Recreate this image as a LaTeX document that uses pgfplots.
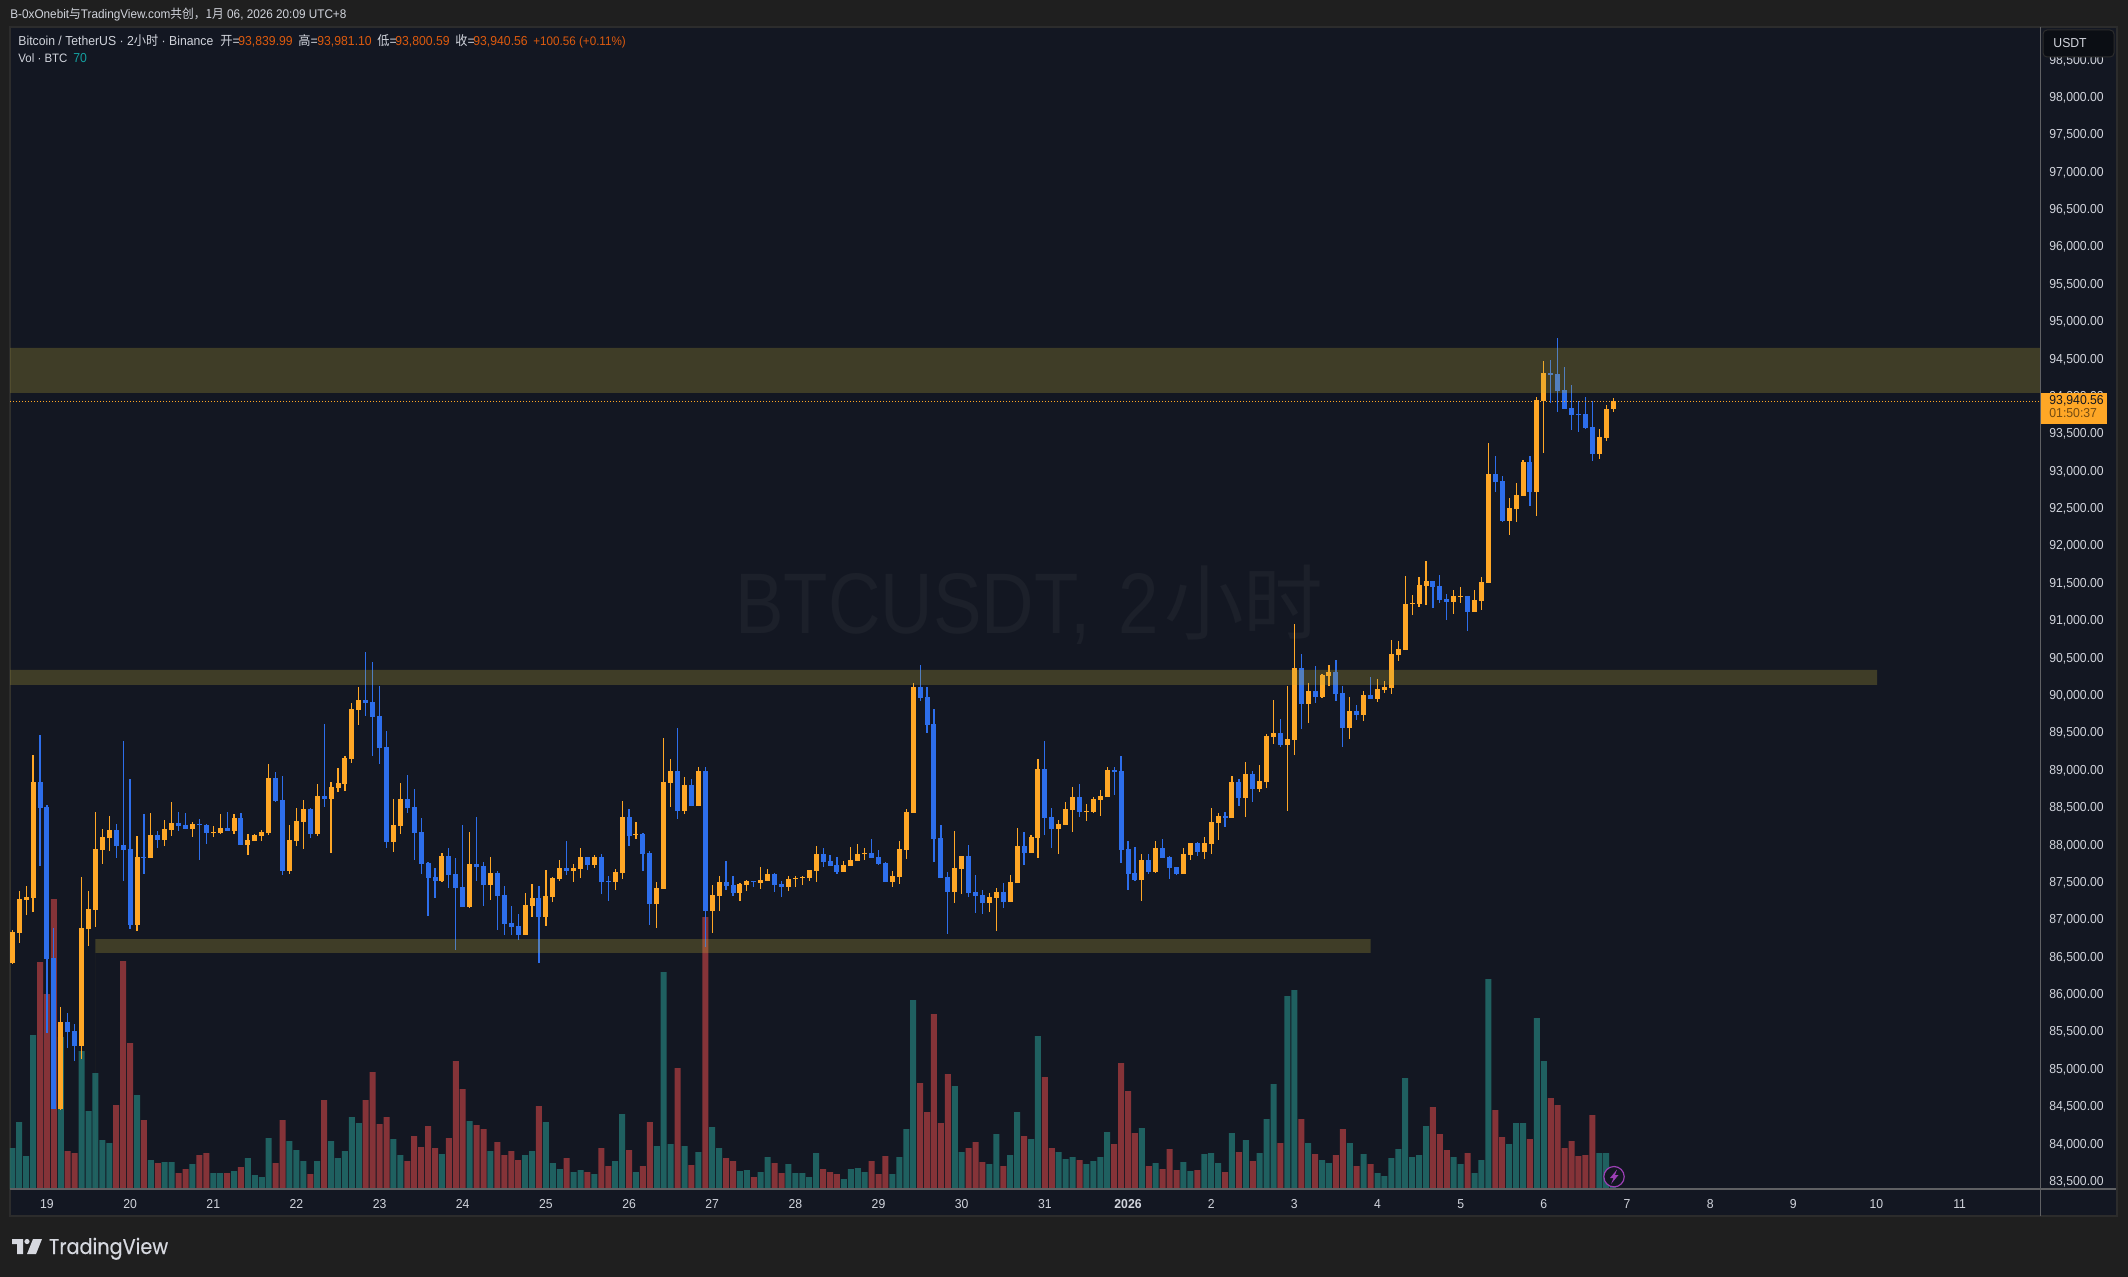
\documentclass[border=0pt]{standalone}
\usepackage{fontspec}
\usepackage{pgfplots}
\usepackage{pgfplotstable}
\pgfplotsset{compat=1.18}
\setmainfont{Liberation Sans}[FakeStretch=0.94]
\newfontfamily\cjk{Noto Sans CJK SC}[FakeStretch=0.94]
\newfontfamily\wmfont{Liberation Sans}
\newfontfamily\wmcjk{Noto Sans CJK SC}
\newfontfamily\logofont{Poppins}[FakeBold=0.4]

\definecolor{outer}{HTML}{1F1F1F}
\definecolor{panel}{HTML}{131722}
\definecolor{frameline}{HTML}{2C2C2C}
\definecolor{cup}{HTML}{FFA726}
\definecolor{cdown}{HTML}{2D6EEB}
\definecolor{vup}{HTML}{1F6060}
\definecolor{vdown}{HTML}{853338}
\definecolor{zone}{RGB}{195,175,55}
\definecolor{txt}{HTML}{D1D4DC}
\definecolor{val}{HTML}{DD5A0E}
\definecolor{wm}{HTML}{1C202A}
\definecolor{bolt}{HTML}{9C3FB5}

% 2h candles: bar index, open, high, low, close, volume (bar height)
\pgfplotstableread{
i o h l c v
0 86431 86868 86413 86841 41
1 86828 87389 86694 87282 67
2 87269 87456 87068 87309 33
3 87296 89209 87108 88847 154
7 84473 85838 84460 85637 152
10 85316 87577 85142 86894 138
11 86881 87389 86654 87149 78
12 87135 88446 86908 87951 116
13 87938 88219 87751 88112 49
14 88098 88393 87924 88205 46
18 86935 88125 86854 87844 94
20 87831 88433 87831 88138 29
22 88072 88339 87991 88219 27
23 88205 88580 88125 88299 27
26 88219 88312 88112 88286 25
29 88165 88259 88112 88179 16
30 88165 88419 88152 88232 16
32 88192 88419 88152 88366 18
34 88005 88152 87871 88072 31
35 88058 88152 88058 88138 14
36 88125 88205 88058 88179 12
37 88165 89088 88138 88901 51
40 87657 88272 87617 88072 48
41 88058 88500 87991 88326 39
42 88312 88607 87951 88486 28
44 88152 88821 88125 88660 28
46 88620 88847 87898 88781 48
47 88767 89035 88714 88834 31
48 88821 89195 88727 89169 38
49 89155 89904 89102 89824 72
50 89811 90118 89610 89944 66
55 88045 88620 87911 88272 50
56 88259 88834 88152 88620 34
62 87523 87898 87510 87858 35
66 87175 88179 87162 87751 68
69 87470 87844 87269 87630 38
74 86801 87363 86801 87202 34
75 87189 87483 87042 87296 38
77 87042 87670 86921 87322 67
78 87309 87577 87242 87563 26
79 87550 87804 87523 87697 20
81 87657 87751 87510 87697 17
82 87684 87965 87563 87844 19
84 87737 87871 87697 87844 15
87 87510 87684 87403 87644 28
88 87630 88593 87550 88379 75
90 88138 88312 88085 88152 17
93 87216 87510 86894 87430 43
94 87416 89436 87416 88847 217
95 88834 89155 88513 88995 45
97 88460 88914 88419 88807 43
99 88526 89048 88526 88995 37
101 87122 87470 86828 87336 62
102 87322 87590 87122 87510 41
105 87363 87496 87256 87483 18
106 87470 87537 87389 87523 19
108 87496 87710 87416 87537 17
109 87523 87684 87523 87617 32
112 87443 87590 87389 87550 25
113 87550 87590 87443 87563 16
114 87563 87590 87470 87577 16
115 87563 87670 87523 87670 12
116 87657 87991 87510 87884 36
120 87644 87791 87644 87737 10
121 87724 87978 87724 87804 20
122 87791 88018 87791 87884 21
123 87884 87965 87804 87898 17
127 87510 87657 87443 87590 15
128 87577 88058 87483 87951 32
129 87938 88486 87817 88446 60
130 88433 90172 88433 90118 189
136 87376 88192 87229 87697 103
137 87684 87858 87349 87858 37
141 87229 87363 87108 87309 25
142 87296 87430 86854 87376 55
144 87242 87603 87242 87510 34
145 87496 88232 87496 87991 77
147 87898 88138 87898 88112 50
148 88098 89155 87831 89021 153
151 88219 88339 87884 88286 37
152 88272 88580 88272 88486 30
153 88473 88781 88179 88647 32
155 88446 88553 88326 88460 25
156 88446 88647 88433 88620 28
157 88607 88740 88393 88660 32
158 88647 89048 88647 89008 57
163 87537 87884 87256 87804 61
165 87644 88058 87630 87965 26
169 87617 87965 87617 87884 27
170 87871 88031 87804 88031 18
172 87911 88112 87817 88031 35
173 88018 88500 87884 88312 36
174 88299 88433 88072 88393 26
176 88366 88928 88366 88847 56
178 88633 89115 88379 88955 49
180 88754 89075 88714 88861 36
181 88847 89490 88767 89463 70
182 89449 89944 89356 89503 105
184 89342 90132 88460 89423 193
185 89409 90961 89209 90372 199
187 89891 90172 89637 90065 46
189 89985 90292 89971 90279 29
190 90265 90413 90132 90319 26
193 89570 89985 89423 89797 46
195 89744 90065 89663 90011 35
197 89958 90225 89918 90092 16
198 90078 90199 90038 90118 13
199 90105 90747 90025 90560 31
200 90547 90734 90466 90627 40
201 90614 91603 90614 91229 111
202 91229 91349 91082 91242 32
203 91229 91590 91189 91483 34
204 91470 91804 91216 91537 63
208 91256 91416 91095 91336 32
209 91323 91456 91242 91336 25
211 91122 91416 91122 91282 16
212 91269 91590 91149 91523 29
213 91510 93383 91510 92968 210
216 92339 92647 92152 92513 45
217 92500 92848 92326 92687 66
218 92674 93155 92674 93128 66
220 92727 93998 92406 93958 171
221 93944 94480 93249 94319 128
229 93236 93570 93169 93463 36
230 93450 93891 93409 93837 36
231 93839.99 93981.10 93800.59 93940.56 2
}\upbars

\pgfplotstableread{
i o h l c v
4 88847 89476 87724 88500 227
5 88513 88540 85490 86480 195
6 86493 86894 84473 84473 290
8 85637 85757 85289 85503 38
9 85517 85610 85115 85316 36
15 88205 88286 87831 87991 84
16 88005 89396 87523 87938 228
17 87951 88888 86881 86935 146
19 87844 88419 87617 87831 69
21 88138 88192 87965 88072 26
24 88299 88446 88192 88259 16
25 88272 88433 88219 88219 20
27 88286 88353 87804 88272 34
28 88272 88286 88018 88165 36
31 88232 88446 88192 88192 16
33 88366 88433 88005 88005 22
38 88901 88981 88580 88593 26
39 88607 88928 87603 87657 69
43 88486 88500 88098 88152 15
45 88660 89623 88513 88620 89
51 89944 90586 89730 89904 89
52 89918 90453 89195 89717 117
53 89730 90132 89088 89302 65
54 89316 89530 87965 88045 72
57 88620 88941 88433 88500 28
58 88513 88754 87804 88165 53
59 88179 88366 87617 87751 42
60 87764 87777 87055 87563 63
61 87577 87697 87296 87523 41
63 87858 87965 87430 87603 51
64 87617 87831 86600 87430 128
65 87443 88272 87175 87175 100
67 87751 88379 87523 87710 64
68 87724 87777 87189 87470 60
70 87630 87657 86868 87322 47
71 87336 87456 86801 86948 34
72 86961 87189 86801 86908 38
73 86921 87082 86734 86801 29
76 87296 87456 86426 87042 83
80 87697 88058 87603 87657 31
83 87844 87844 87670 87737 17
85 87844 87884 87349 87510 41
86 87523 87590 87256 87510 23
89 88379 88486 87991 88125 39
91 88152 88165 87657 87884 23
92 87898 87924 86935 87216 67
96 88995 89570 88353 88460 121
98 88807 88888 88526 88526 24
100 88995 89048 86645 87122 272
103 87510 87791 87403 87456 31
104 87470 87590 87322 87363 28
107 87523 87523 87443 87510 12
110 87617 87630 87376 87470 26
111 87483 87523 87309 87443 16
117 87884 87965 87710 87777 20
118 87791 87871 87724 87724 17
119 87737 87844 87617 87644 15
124 87898 88085 87831 87831 28
125 87844 87938 87737 87751 15
126 87764 87777 87510 87510 33
131 90118 90413 89931 89971 106
132 89985 90118 89503 89610 77
133 89623 89824 87777 88085 175
134 88098 88272 87563 87563 66
135 87577 87644 86814 87376 115
138 87858 88005 87309 87363 41
139 87376 87603 87095 87322 47
140 87336 87403 87082 87229 27
143 87376 87496 87162 87242 23
146 87991 88179 87737 87898 53
149 89021 89396 88138 88366 112
150 88379 88500 87965 88219 41
154 88647 88821 88379 88446 29
159 89008 89048 88674 88981 45
160 88995 89195 87764 87938 126
161 87951 88058 87403 87617 98
162 87630 87978 87523 87537 56
164 87804 87884 87617 87644 23
166 87965 88085 87831 87831 20
167 87844 87858 87550 87697 40
168 87710 87710 87603 87617 19
171 88031 88045 87858 87911 19
175 88393 88446 88246 88366 17
177 88847 88888 88526 88633 37
179 88955 88995 88580 88754 28
183 89503 89690 89316 89342 46
186 90372 90560 89556 89891 70
188 90065 90399 89904 89985 35
191 90319 90479 89931 90025 34
192 90038 90132 89316 89570 60
194 89797 89877 89677 89744 23
196 90011 90252 89958 89958 25
205 91537 91537 91175 91456 82
206 91470 91617 91242 91282 55
207 91296 91363 91015 91256 39
210 91336 91336 90868 91122 36
214 92968 93209 92727 92861 79
215 92874 92941 92326 92339 52
219 93128 93209 92540 92727 50
222 94319 94493 93918 94292 91
223 94306 94787 93797 94078 84
224 94092 94399 93837 93837 41
225 93851 94158 93557 93757 48
226 93771 93944 93530 93757 33
227 93771 93998 93570 93583 34
228 93597 93944 93142 93236 74
}\downbars

\newcommand{\tx}[4]{\node[anchor=base west,inner sep=0pt,text=#3] at (#1,#2) {#4};}

\begin{document}
\begin{tikzpicture}
\useasboundingbox (0,0) rectangle (1064pt,-638.5pt);
\fill[outer] (0,0) rectangle (1064pt,-638.5pt);
\begin{scope}[x=0.5pt,y=-0.5pt]
\fill[panel] (10,27) rectangle (2116,1216);
\draw[frameline,line width=1pt] (9.5,27) rectangle (2116.5,1216);
\node[anchor=base west,inner sep=0pt,text=wm] at (735,633)
  {\scalebox{0.845}[1]{\fontsize{43pt}{43pt}\wmfont BTCUSDT,}};
\node[anchor=base west,inner sep=0pt,text=wm] at (1118,633)
  {\scalebox{0.845}[1]{\fontsize{43pt}{43pt}\wmfont 2}};
\node[anchor=base west,inner sep=0pt,text=wm] at (1164,633)
  {\scalebox{0.97}[1]{\fontsize{41pt}{41pt}\wmcjk 小时}};
\end{scope}

% volume
\begin{axis}[
  at={(5pt,-594.5pt)}, anchor=south west,
  scale only axis, width=1015.25pt, height=581pt,
  xmin=-0.33, xmax=292.67, ymin=0, ymax=1162,
  hide axis,
]
\addplot[ybar, bar shift=0pt, bar width=3pt, fill=vup, draw=none] table[x=i,y=v] {\upbars};
\addplot[ybar, bar shift=0pt, bar width=3pt, fill=vdown, draw=none] table[x=i,y=v] {\downbars};
\end{axis}

% candles and price scale
\begin{axis}[
  at={(5pt,-594.5pt)}, anchor=south west,
  scale only axis, width=1015.25pt, height=581pt,
  xmin=-0.33, xmax=292.67, ymin=83403, ymax=98946,
  axis x line=bottom, axis y line=right,
  axis line style={-, draw=gray!70!panel, line width=0.6pt},
  xtick={5,17,29,41,53,65,77,89,101,113,125,137,149,161,173,185,197,209,221,233,245,257,269,281},
  xticklabels={19,20,21,22,23,24,25,26,27,28,29,30,31,\textbf{2026},2,3,4,5,6,7,8,9,10,11},
  ytick={83500,84000,...,98500},
  scaled y ticks=false,
  major tick length=0pt,
  tick label style={font=\fontsize{6.5pt}{7pt}\selectfont, text=txt},
  xticklabel style={yshift=-1.5pt},
  yticklabel style={anchor=west, inner xsep=0pt, xshift=4.25pt},
  /pgf/number format/.cd, fixed, fixed zerofill, precision=2, 1000 sep={,}, assume math mode=true,
]
% wicks
\addplot[draw=none, forget plot, error bars/.cd, y dir=plus, y explicit, error mark=none,
  error bar style={solid, draw=cup, line width=0.6pt}]
  table[x=i, y=l, y error plus expr=\thisrow{h}-\thisrow{l}] {\upbars};
\addplot[draw=none, forget plot, error bars/.cd, y dir=plus, y explicit, error mark=none,
  error bar style={solid, draw=cdown, line width=0.6pt}]
  table[x=i, y=l, y error plus expr=\thisrow{h}-\thisrow{l}] {\downbars};
% bodies
\addplot[draw=none, forget plot, error bars/.cd, y dir=plus, y explicit, error mark=none,
  error bar style={solid, draw=cup, line width=2.5pt}]
  table[x=i, y=o, y error plus expr=\thisrow{c}-\thisrow{o}] {\upbars};
\addplot[draw=none, forget plot, error bars/.cd, y dir=plus, y explicit, error mark=none,
  error bar style={solid, draw=cdown, line width=2.5pt}]
  table[x=i, y=c, y error plus expr=\thisrow{o}-\thisrow{c}] {\downbars};
% zones over the candles
\addplot[draw=none, fill=zone, fill opacity=0.25] coordinates {(-0.33,94051)(292.67,94051)(292.67,94653)(-0.33,94653)} \closedcycle;
\addplot[draw=none, fill=zone, fill opacity=0.25] coordinates {(-0.33,90145)(269.1,90145)(269.1,90346)(-0.33,90346)} \closedcycle;
\addplot[draw=none, fill=zone, fill opacity=0.25] coordinates {(12,86560)(196,86560)(196,86747)(12,86747)} \closedcycle;
% last price
\addplot[cup, line width=0.5pt, dash pattern=on 0.6pt off 0.9pt] coordinates {(-0.33,93940.56)(292.67,93940.56)};
\end{axis}

\begin{scope}[x=0.5pt,y=-0.5pt,font=\fontsize{6.5pt}{7pt}\selectfont]
\draw[gray!70!panel,line width=0.6pt] (2040.5,1189) -- (2116,1189);
\draw[gray!70!panel,line width=0.6pt] (2040.5,27) -- (2040.5,1216);
% price tag
\fill[cup] (2041,393) rectangle (2107,424);
\tx{2049}{405}{panel}{93,940.56}
\tx{2049}{418}{cup!45!black}{01:50:37}
% currency badge
\fill[panel!60!black,draw=frameline,line width=0.5pt,rounded corners=2pt] (2043,30) rectangle (2114,57);
\tx{2053}{48}{txt}{USDT}
% header
\tx{10}{19}{txt}{\fontsize{6.25pt}{7pt}\selectfont B-0xOnebit{\cjk 与}TradingView.com{\cjk 共创，1月} 06, 2026 20:09 UTC+8}
\tx{18}{46}{txt}{Bitcoin / TetherUS · 2{\cjk 小时} · Binance}
\tx{220}{46}{txt}{{\cjk 开}=}\tx{238}{46}{val}{93,839.99}
\tx{298}{46}{txt}{{\cjk 高}=}\tx{317}{46}{val}{93,981.10}
\tx{377}{46}{txt}{{\cjk 低}=}\tx{395}{46}{val}{93,800.59}
\tx{455}{46}{txt}{{\cjk 收}=}\tx{473}{46}{val}{93,940.56}
\tx{533}{46}{val}{\fontsize{6.2pt}{7pt}\selectfont +100.56 (+0.11\%)}
\tx{18}{63}{txt}{\fontsize{6.1pt}{7pt}\selectfont Vol · BTC}
\tx{73}{63}{vup!60!cyan}{70}
% bolt button
\filldraw[fill=panel,draw=bolt,line width=0.6pt] (1614,1176.7) circle (10.2);
\fill[bolt] (1617,1169.5) -- (1610,1178) -- (1613.5,1178) -- (1611,1184) -- (1618.5,1175) -- (1615,1175) -- cycle;
% logo
\fill[txt!90!white] (12,1239) -- (23,1239) -- (23,1254) -- (17,1254) -- (17,1244) -- (12,1244) -- cycle;
\fill[txt!90!white] (27,1241.5) circle (2.6);
\fill[txt!90!white] (33,1239) -- (42,1239) -- (36,1254) -- (27,1254) -- cycle;
\node[anchor=base west,inner sep=0pt,text=txt!90!white] at (48.5,1254)
  {\scalebox{0.9}[1]{\fontsize{10.7pt}{11pt}\logofont TradingView}};
\end{scope}
\end{tikzpicture}
\end{document}
